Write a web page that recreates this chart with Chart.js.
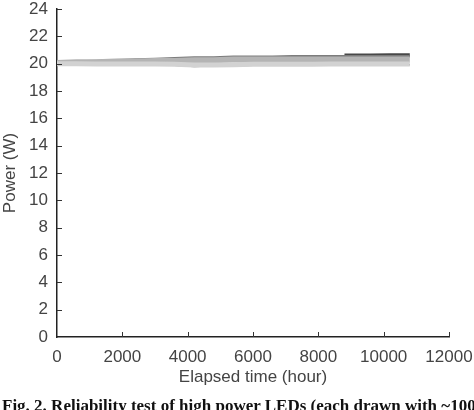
<!DOCTYPE html>
<html lang="en">
<head>
    <meta charset="UTF-8">
    <title>Power vs elapsed time</title>
    <script src="https://cdn.jsdelivr.net/npm/chart.js@4.4.1/dist/chart.umd.min.js"></script>
    <style>
        body { margin: 0; background: #fff; overflow: hidden; }
        #wrap { position: relative; width: 474px; height: 410px; }
        #caption {
            position: absolute; left: 2px; top: 396px; white-space: nowrap;
            font: bold 17px "Liberation Serif", "DejaVu Serif", serif; color: #111;
        }
    </style>
</head>
<body>
    <div id="wrap">
        <canvas id="myChart" width="474" height="410"></canvas>
        <div id="caption">Fig. 2. Reliability test of high power LEDs (each drawn with ~100</div>
    </div>
    <script>
        // elapsed time (hour) sample points
        var hours = [0, 600, 1200, 1800, 2400, 3000, 3600, 4200, 4800, 5400, 6000, 6600, 7200, 7800, 8400, 9000, 9600, 10200, 10800];

        // several LED traces, power in W
        var ledUpper = [20.1, 20.15, 20.2, 20.25, 20.3, 20.35, 20.4, 20.45, 20.45, 20.5, 20.5, 20.5, 20.55, 20.55, 20.55, 20.55, 20.55, 20.55, 20.55];
        var ledBand = [20.05, 20.1, 20.1, 20.15, 20.15, 20.2, 20.2, 20.25, 20.25, 20.3, 20.3, 20.3, 20.3, 20.3, 20.3, 20.3, 20.3, 20.3, 20.3];
        var ledLower = [20.0, 19.98, 19.95, 19.92, 19.9, 19.9, 19.88, 19.8, 19.85, 19.85, 19.88, 19.9, 19.9, 19.92, 19.92, 19.92, 19.92, 19.92, 19.92];
        var ledLowest = [20.0, 20.0, 19.98, 19.98, 19.97, 19.97, 19.95, 19.9, 19.9, 19.92, 19.95, 19.95, 19.95, 19.95, 19.97, 19.97, 19.97, 19.97, 19.97];

        // darker trace that only covers the late hours
        var darkHours = [8800, 9600, 10200, 10800];
        var darkPower = [20.6, 20.6, 20.62, 20.62];

        var xTicks = [0, 2000, 4000, 6000, 8000, 10000, 12000];
        var yTicks = [0, 2, 4, 6, 8, 10, 12, 14, 16, 18, 20, 22, 24];

        function pts(xs, ys) {
            return xs.map(function (x, i) { return { x: x, y: ys[i] }; });
        }

        var axisColor = "#444444";
        var font = { family: "'Liberation Sans', Arial, sans-serif", size: 17 };

        // small tick marks pointing into the plot area
        var innerTicks = {
            id: 'innerTicks',
            afterDraw: function (chart) {
                var ctx = chart.ctx;
                var xs = chart.scales.x, ys = chart.scales.y;
                ctx.save();
                ctx.strokeStyle = "#333";
                ctx.lineWidth = 1;
                ctx.beginPath();
                xTicks.forEach(function (v) {
                    if (v === 0) return;
                    var px = Math.round(xs.getPixelForValue(v)) + 0.5;
                    ctx.moveTo(px, ys.bottom);
                    ctx.lineTo(px, ys.bottom - 5);
                });
                yTicks.forEach(function (v) {
                    if (v === 0) return;
                    var py = Math.round(ys.getPixelForValue(v)) + 0.5;
                    ctx.moveTo(xs.left, py);
                    ctx.lineTo(xs.left + 5, py);
                });
                ctx.stroke();
                ctx.restore();
            }
        };

        var ctx = document.getElementById("myChart").getContext('2d');
        var myChart = new Chart(ctx, {
            type: 'scatter',
            data: {
                datasets: [
                    { data: pts(hours, ledLowest), borderColor: "#d2d2d2", borderWidth: 5 },
                    { data: pts(hours, ledBand), borderColor: "#b4b4b4", borderWidth: 6 },
                    { data: pts(hours, ledLower), borderColor: "#6e6e6e", borderWidth: 1.5 },
                    { data: pts(hours, ledUpper), borderColor: "#7c7c7c", borderWidth: 2.5 },
                    { data: pts(darkHours, darkPower), borderColor: "#484848", borderWidth: 4 }
                ]
            },
            options: {
                responsive: false,
                animation: false,
                showLine: true,
                elements: { point: { radius: 0 }, line: { tension: 0 } },
                layout: { padding: { top: 9, right: 25, bottom: 22, left: 0 } },
                plugins: {
                    legend: { display: false },
                    tooltip: { enabled: false }
                },
                scales: {
                    x: {
                        type: 'linear',
                        min: 0,
                        max: 12000,
                        afterBuildTicks: function (s) { s.ticks = xTicks.map(function (v) { return { value: v }; }); },
                        afterFit: function (s) { s.height = 51; s.paddingLeft = 0; s.paddingRight = 0; },
                        grid: { display: false, drawTicks: false },
                        border: { color: "#222", width: 1.5 },
                        ticks: { color: axisColor, font: font, padding: 10, maxRotation: 0, callback: function (v) { return String(v); } },
                        title: { display: true, text: "Elapsed time (hour)", color: axisColor, font: font, padding: 0 }
                    },
                    y: {
                        min: 0,
                        max: 24,
                        afterBuildTicks: function (s) { s.ticks = yTicks.map(function (v) { return { value: v }; }); },
                        afterFit: function (s) { s.width = 57; s.paddingTop = 0; s.paddingBottom = 0; },
                        grid: { display: false, drawTicks: false },
                        border: { color: "#222", width: 1.5 },
                        ticks: { color: axisColor, font: font, padding: 9, callback: function (v) { return String(v); } },
                        title: { display: true, text: "Power (W)", color: axisColor, font: font, padding: 0 }
                    }
                }
            },
            plugins: [innerTicks]
        });
    </script>
</body>
</html>
